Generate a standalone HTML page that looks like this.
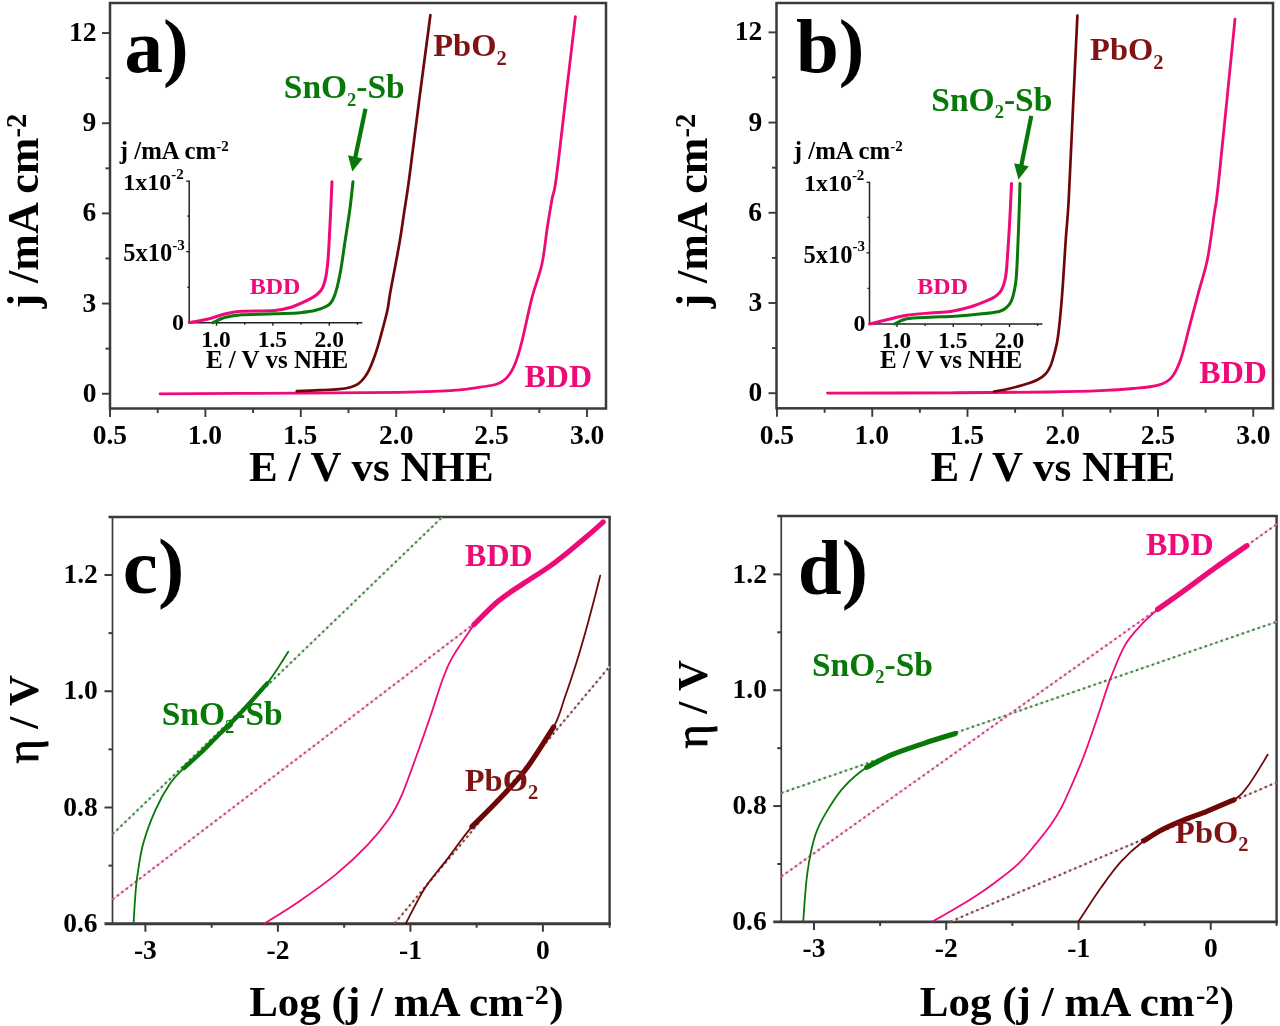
<!DOCTYPE html>
<html><head><meta charset="utf-8"><style>
html,body{margin:0;padding:0;background:#fff;width:1280px;height:1026px;overflow:hidden}
svg{display:block;filter:blur(0.4px)}
text{font-family:"Liberation Serif",serif;font-weight:bold}
</style></head><body>
<svg width="1280" height="1026" viewBox="0 0 1280 1026">
<rect width="1280" height="1026" fill="#fff"/>
<rect x="110.00" y="3.00" width="496.00" height="405.50" fill="none" stroke="#3a3a3a" stroke-width="2.5"/>
<line x1="110.00" y1="408.50" x2="110.00" y2="417.00" stroke="#3a3a3a" stroke-width="1.9" />
<text x="92.74" y="443.80" font-size="27.5" fill="#000" >0.5</text>
<line x1="205.40" y1="408.50" x2="205.40" y2="417.00" stroke="#3a3a3a" stroke-width="1.9" />
<text x="187.66" y="443.80" font-size="27.5" fill="#000" >1.0</text>
<line x1="300.80" y1="408.50" x2="300.80" y2="417.00" stroke="#3a3a3a" stroke-width="1.9" />
<text x="282.99" y="443.80" font-size="27.5" fill="#000" >1.5</text>
<line x1="396.20" y1="408.50" x2="396.20" y2="417.00" stroke="#3a3a3a" stroke-width="1.9" />
<text x="379.01" y="443.80" font-size="27.5" fill="#000" >2.0</text>
<line x1="491.60" y1="408.50" x2="491.60" y2="417.00" stroke="#3a3a3a" stroke-width="1.9" />
<text x="474.34" y="443.80" font-size="27.5" fill="#000" >2.5</text>
<line x1="587.00" y1="408.50" x2="587.00" y2="417.00" stroke="#3a3a3a" stroke-width="1.9" />
<text x="569.88" y="443.80" font-size="27.5" fill="#000" >3.0</text>
<line x1="157.70" y1="408.50" x2="157.70" y2="413.00" stroke="#3a3a3a" stroke-width="1.9" />
<line x1="253.10" y1="408.50" x2="253.10" y2="413.00" stroke="#3a3a3a" stroke-width="1.9" />
<line x1="348.50" y1="408.50" x2="348.50" y2="413.00" stroke="#3a3a3a" stroke-width="1.9" />
<line x1="443.90" y1="408.50" x2="443.90" y2="413.00" stroke="#3a3a3a" stroke-width="1.9" />
<line x1="539.30" y1="408.50" x2="539.30" y2="413.00" stroke="#3a3a3a" stroke-width="1.9" />
<line x1="102.00" y1="393.75" x2="110.00" y2="393.75" stroke="#3a3a3a" stroke-width="1.9" />
<text x="82.65" y="401.75" font-size="27.5" fill="#000" >0</text>
<line x1="102.00" y1="303.57" x2="110.00" y2="303.57" stroke="#3a3a3a" stroke-width="1.9" />
<text x="82.51" y="311.57" font-size="27.5" fill="#000" >3</text>
<line x1="102.00" y1="213.39" x2="110.00" y2="213.39" stroke="#3a3a3a" stroke-width="1.9" />
<text x="82.38" y="221.39" font-size="27.5" fill="#000" >6</text>
<line x1="102.00" y1="123.21" x2="110.00" y2="123.21" stroke="#3a3a3a" stroke-width="1.9" />
<text x="82.51" y="131.21" font-size="27.5" fill="#000" >9</text>
<line x1="102.00" y1="33.03" x2="110.00" y2="33.03" stroke="#3a3a3a" stroke-width="1.9" />
<text x="68.90" y="41.03" font-size="27.5" fill="#000" >12</text>
<line x1="105.50" y1="348.66" x2="110.00" y2="348.66" stroke="#3a3a3a" stroke-width="1.9" />
<line x1="105.50" y1="258.48" x2="110.00" y2="258.48" stroke="#3a3a3a" stroke-width="1.9" />
<line x1="105.50" y1="168.30" x2="110.00" y2="168.30" stroke="#3a3a3a" stroke-width="1.9" />
<line x1="105.50" y1="78.12" x2="110.00" y2="78.12" stroke="#3a3a3a" stroke-width="1.9" />
<text transform="translate(38.20,308.60) rotate(-90)" font-size="44" fill="#000" >j /mA cm<tspan font-size="28.7" dy="-12.30">-2</tspan></text>
<text x="249.05" y="480.80" font-size="43" fill="#000" >E / V vs NHE</text>
<text x="124.39" y="71.80" font-size="77" fill="#000" >a)</text>
<text x="433.21" y="56.20" font-size="32.5" fill="#7e1414" >PbO<tspan font-size="20.5" dy="8.60">2</tspan></text>
<text x="283.76" y="98.40" font-size="33.5" fill="#087808" >SnO<tspan font-size="18.5" dy="7.70">2</tspan><tspan font-size="33.5" dy="-7.70">-Sb</tspan></text>
<text x="524.52" y="387.00" font-size="32" fill="#ee0a78" >BDD</text>
<line x1="365.50" y1="108.70" x2="354.97" y2="158.78" stroke="#087808" stroke-width="4.2" />
<polygon points="352.3,171.5 348.0,155.3 362.7,158.4" fill="#087808"/>
<line x1="189.20" y1="180.50" x2="189.20" y2="323.60" stroke="#222" stroke-width="1.5" />
<line x1="188.50" y1="322.80" x2="362.40" y2="322.80" stroke="#222" stroke-width="1.6" />
<line x1="216.50" y1="322.80" x2="216.50" y2="325.80" stroke="#222" stroke-width="1.4" />
<text x="201.34" y="346.70" font-size="23.5" fill="#000" >1.0</text>
<line x1="272.90" y1="322.80" x2="272.90" y2="325.80" stroke="#222" stroke-width="1.4" />
<text x="257.68" y="346.70" font-size="23.5" fill="#000" >1.5</text>
<line x1="329.30" y1="322.80" x2="329.30" y2="325.80" stroke="#222" stroke-width="1.4" />
<text x="314.61" y="346.70" font-size="23.5" fill="#000" >2.0</text>
<line x1="244.70" y1="322.80" x2="244.70" y2="324.80" stroke="#222" stroke-width="1.4" />
<line x1="301.10" y1="322.80" x2="301.10" y2="324.80" stroke="#222" stroke-width="1.4" />
<line x1="357.50" y1="322.80" x2="357.50" y2="324.80" stroke="#222" stroke-width="1.4" />
<line x1="186.20" y1="181.20" x2="189.20" y2="181.20" stroke="#222" stroke-width="1.3" />
<line x1="186.20" y1="251.65" x2="189.20" y2="251.65" stroke="#222" stroke-width="1.3" />
<line x1="187.20" y1="216.07" x2="189.20" y2="216.07" stroke="#222" stroke-width="1.3" />
<line x1="187.20" y1="287.23" x2="189.20" y2="287.23" stroke="#222" stroke-width="1.3" />
<text x="123.28" y="190.40" font-size="24" fill="#000" >1x10<tspan font-size="15" dy="-11.30">-2</tspan></text>
<text x="123.22" y="261.10" font-size="24.5" fill="#000" >5x10<tspan font-size="15" dy="-11.40">-3</tspan></text>
<text x="171.96" y="330.00" font-size="24" fill="#000" >0</text>
<text x="119.85" y="158.90" font-size="24.8" fill="#000" >j /mA cm<tspan font-size="15" dy="-7.70">-2</tspan></text>
<text x="205.93" y="368.20" font-size="25" fill="#000" >E / V vs NHE</text>
<text x="249.64" y="293.70" font-size="24" fill="#ee0a78" >BDD</text>
<path d="M189.2,322.6 C192.5,322.0 203.1,320.2 209.2,318.7 C215.3,317.2 220.1,315.0 225.6,313.8 C231.1,312.6 233.8,311.9 242.0,311.3 C250.2,310.8 266.6,311.2 274.8,310.5 C283.0,309.8 285.8,308.9 291.3,307.2 C296.8,305.5 303.4,302.3 307.7,300.2 C312.0,298.1 314.5,296.5 317.0,294.5 C319.5,292.5 321.0,291.1 322.5,288.0 C324.0,284.9 325.0,281.4 326.0,276.0 C327.0,270.6 327.6,265.7 328.3,255.8 C329.0,245.9 329.8,229.2 330.4,216.8 C331.0,204.5 331.7,187.5 332.0,181.7" fill="none" stroke="#ee0a78" stroke-width="3.0" stroke-linecap="round" stroke-linejoin="round" />
<path d="M212.5,322.8 C214.7,321.9 220.7,318.6 225.6,317.3 C230.5,316.0 233.8,315.4 242.0,314.8 C250.2,314.2 265.1,314.2 274.8,313.8 C284.5,313.4 293.2,313.3 300.0,312.7 C306.8,312.1 310.7,311.7 315.6,310.3 C320.5,308.9 326.2,307.2 329.6,304.1 C333.0,301.0 334.1,297.1 335.9,291.6 C337.7,286.1 338.9,279.9 340.5,271.3 C342.1,262.7 343.6,250.6 345.2,240.2 C346.8,229.8 348.6,218.8 349.9,209.0 C351.2,199.2 352.5,186.2 353.0,181.7" fill="none" stroke="#087808" stroke-width="3.0" stroke-linecap="round" stroke-linejoin="round" />
<path d="M160.0,393.8 C183.3,393.7 260.0,393.3 300.0,393.1 C340.0,392.9 376.7,392.7 400.0,392.4 C423.3,392.1 430.0,391.6 440.0,391.2 C450.0,390.8 454.1,390.4 460.0,389.8 C465.9,389.2 470.4,388.5 475.6,387.8 C480.8,387.1 487.3,386.3 491.2,385.5 C495.1,384.7 496.7,384.2 499.0,383.2 C501.3,382.2 503.4,380.9 505.2,379.3 C507.0,377.7 508.5,375.9 509.9,373.8 C511.3,371.7 512.5,369.7 513.8,366.8 C515.1,363.9 516.2,361.2 517.7,356.6 C519.2,352.0 520.1,348.7 522.5,339.0 C524.9,329.3 528.6,310.9 531.8,298.4 C535.0,285.9 539.3,276.1 541.9,264.2 C544.5,252.3 545.7,237.7 547.4,226.8 C549.1,215.9 550.7,206.5 552.1,198.7 C553.5,190.9 553.7,196.7 556.0,180.0 C558.3,163.3 562.5,125.6 565.7,98.4 C568.9,71.2 573.8,30.3 575.4,16.7" fill="none" stroke="#ee0a78" stroke-width="2.8" stroke-linecap="round" stroke-linejoin="round" />
<path d="M296.8,391.1 C300.5,391.0 312.2,390.5 319.2,390.2 C326.2,389.9 333.5,389.7 338.7,389.2 C343.9,388.7 347.1,388.1 350.4,387.2 C353.6,386.3 355.9,385.3 358.2,383.8 C360.5,382.3 362.3,380.3 364.1,378.0 C365.9,375.7 367.4,373.4 369.0,370.2 C370.6,366.9 372.4,362.4 373.8,358.5 C375.2,354.6 376.2,351.7 377.7,346.8 C379.2,341.9 381.0,335.4 382.6,329.2 C384.2,323.0 386.2,315.9 387.5,309.7 C388.8,303.5 388.3,303.4 390.3,292.2 C392.3,281.0 397.3,255.8 399.6,242.3 C401.9,228.8 402.7,221.6 404.3,211.2 C405.9,200.8 406.4,199.0 409.0,180.0 C411.6,161.0 416.0,124.5 419.6,97.0 C423.2,69.5 428.6,28.7 430.4,15.0" fill="none" stroke="#6e0808" stroke-width="2.7" stroke-linecap="round" stroke-linejoin="round" />
<rect x="776.50" y="3.00" width="496.50" height="405.30" fill="none" stroke="#3a3a3a" stroke-width="2.5"/>
<line x1="777.00" y1="408.30" x2="777.00" y2="416.80" stroke="#3a3a3a" stroke-width="1.9" />
<text x="759.74" y="443.80" font-size="27.5" fill="#000" >0.5</text>
<line x1="872.25" y1="408.30" x2="872.25" y2="416.80" stroke="#3a3a3a" stroke-width="1.9" />
<text x="854.51" y="443.80" font-size="27.5" fill="#000" >1.0</text>
<line x1="967.50" y1="408.30" x2="967.50" y2="416.80" stroke="#3a3a3a" stroke-width="1.9" />
<text x="949.69" y="443.80" font-size="27.5" fill="#000" >1.5</text>
<line x1="1062.75" y1="408.30" x2="1062.75" y2="416.80" stroke="#3a3a3a" stroke-width="1.9" />
<text x="1045.56" y="443.80" font-size="27.5" fill="#000" >2.0</text>
<line x1="1158.00" y1="408.30" x2="1158.00" y2="416.80" stroke="#3a3a3a" stroke-width="1.9" />
<text x="1140.74" y="443.80" font-size="27.5" fill="#000" >2.5</text>
<line x1="1253.25" y1="408.30" x2="1253.25" y2="416.80" stroke="#3a3a3a" stroke-width="1.9" />
<text x="1236.13" y="443.80" font-size="27.5" fill="#000" >3.0</text>
<line x1="824.62" y1="408.30" x2="824.62" y2="412.80" stroke="#3a3a3a" stroke-width="1.9" />
<line x1="919.88" y1="408.30" x2="919.88" y2="412.80" stroke="#3a3a3a" stroke-width="1.9" />
<line x1="1015.12" y1="408.30" x2="1015.12" y2="412.80" stroke="#3a3a3a" stroke-width="1.9" />
<line x1="1110.38" y1="408.30" x2="1110.38" y2="412.80" stroke="#3a3a3a" stroke-width="1.9" />
<line x1="1205.62" y1="408.30" x2="1205.62" y2="412.80" stroke="#3a3a3a" stroke-width="1.9" />
<line x1="768.50" y1="393.20" x2="776.50" y2="393.20" stroke="#3a3a3a" stroke-width="1.9" />
<text x="748.55" y="401.20" font-size="27.5" fill="#000" >0</text>
<line x1="768.50" y1="302.99" x2="776.50" y2="302.99" stroke="#3a3a3a" stroke-width="1.9" />
<text x="748.41" y="310.99" font-size="27.5" fill="#000" >3</text>
<line x1="768.50" y1="212.78" x2="776.50" y2="212.78" stroke="#3a3a3a" stroke-width="1.9" />
<text x="748.28" y="220.78" font-size="27.5" fill="#000" >6</text>
<line x1="768.50" y1="122.57" x2="776.50" y2="122.57" stroke="#3a3a3a" stroke-width="1.9" />
<text x="748.41" y="130.57" font-size="27.5" fill="#000" >9</text>
<line x1="768.50" y1="32.36" x2="776.50" y2="32.36" stroke="#3a3a3a" stroke-width="1.9" />
<text x="734.80" y="40.36" font-size="27.5" fill="#000" >12</text>
<line x1="772.00" y1="348.09" x2="776.50" y2="348.09" stroke="#3a3a3a" stroke-width="1.9" />
<line x1="772.00" y1="257.88" x2="776.50" y2="257.88" stroke="#3a3a3a" stroke-width="1.9" />
<line x1="772.00" y1="167.67" x2="776.50" y2="167.67" stroke="#3a3a3a" stroke-width="1.9" />
<line x1="772.00" y1="77.46" x2="776.50" y2="77.46" stroke="#3a3a3a" stroke-width="1.9" />
<text transform="translate(707.10,308.60) rotate(-90)" font-size="44" fill="#000" >j /mA cm<tspan font-size="28.7" dy="-12.30">-2</tspan></text>
<text x="930.56" y="481.30" font-size="43" fill="#000" >E / V vs NHE</text>
<text x="795.93" y="72.00" font-size="77" fill="#000" >b)</text>
<text x="1090.11" y="60.30" font-size="32.5" fill="#7e1414" >PbO<tspan font-size="20.5" dy="8.60">2</tspan></text>
<text x="931.36" y="110.70" font-size="33.5" fill="#087808" >SnO<tspan font-size="18.5" dy="7.70">2</tspan><tspan font-size="33.5" dy="-7.70">-Sb</tspan></text>
<text x="1199.32" y="382.90" font-size="32" fill="#ee0a78" >BDD</text>
<line x1="1031.30" y1="115.80" x2="1021.06" y2="166.75" stroke="#087808" stroke-width="4.2" />
<polygon points="1018.5,179.5 1014.1,163.3 1028.8,166.3" fill="#087808"/>
<line x1="869.50" y1="181.70" x2="869.50" y2="324.80" stroke="#222" stroke-width="1.5" />
<line x1="868.80" y1="324.00" x2="1042.40" y2="324.00" stroke="#222" stroke-width="1.6" />
<line x1="897.00" y1="324.00" x2="897.00" y2="327.00" stroke="#222" stroke-width="1.4" />
<text x="881.84" y="347.80" font-size="23.5" fill="#000" >1.0</text>
<line x1="953.25" y1="324.00" x2="953.25" y2="327.00" stroke="#222" stroke-width="1.4" />
<text x="938.03" y="347.80" font-size="23.5" fill="#000" >1.5</text>
<line x1="1009.50" y1="324.00" x2="1009.50" y2="327.00" stroke="#222" stroke-width="1.4" />
<text x="994.81" y="347.80" font-size="23.5" fill="#000" >2.0</text>
<line x1="925.12" y1="324.00" x2="925.12" y2="326.00" stroke="#222" stroke-width="1.4" />
<line x1="981.38" y1="324.00" x2="981.38" y2="326.00" stroke="#222" stroke-width="1.4" />
<line x1="1037.62" y1="324.00" x2="1037.62" y2="326.00" stroke="#222" stroke-width="1.4" />
<line x1="866.50" y1="182.40" x2="869.50" y2="182.40" stroke="#222" stroke-width="1.3" />
<line x1="866.50" y1="252.85" x2="869.50" y2="252.85" stroke="#222" stroke-width="1.3" />
<line x1="867.50" y1="217.27" x2="869.50" y2="217.27" stroke="#222" stroke-width="1.3" />
<line x1="867.50" y1="288.43" x2="869.50" y2="288.43" stroke="#222" stroke-width="1.3" />
<text x="803.88" y="191.40" font-size="24" fill="#000" >1x10<tspan font-size="15" dy="-11.30">-2</tspan></text>
<text x="803.62" y="262.60" font-size="24.5" fill="#000" >5x10<tspan font-size="15" dy="-11.40">-3</tspan></text>
<text x="853.46" y="331.00" font-size="24" fill="#000" >0</text>
<text x="793.85" y="158.90" font-size="24.8" fill="#000" >j /mA cm<tspan font-size="15" dy="-7.70">-2</tspan></text>
<text x="880.12" y="368.20" font-size="25" fill="#000" >E / V vs NHE</text>
<text x="917.34" y="293.70" font-size="24" fill="#ee0a78" >BDD</text>
<path d="M869.7,324.0 C873.1,323.2 883.8,320.5 890.0,319.0 C896.2,317.5 900.0,316.2 906.7,315.2 C913.4,314.2 922.7,313.6 930.0,313.0 C937.3,312.4 943.9,312.5 950.6,311.5 C957.3,310.5 963.9,308.8 970.0,307.0 C976.1,305.2 982.7,302.4 987.0,300.6 C991.3,298.8 993.6,297.8 996.0,296.0 C998.4,294.2 1000.0,292.7 1001.5,290.0 C1003.0,287.3 1004.1,283.9 1005.0,280.0 C1005.9,276.1 1006.0,275.7 1006.8,266.5 C1007.5,257.3 1008.7,238.8 1009.5,225.0 C1010.3,211.2 1011.2,190.5 1011.5,183.6" fill="none" stroke="#ee0a78" stroke-width="3.0" stroke-linecap="round" stroke-linejoin="round" />
<path d="M894.5,324.0 C896.5,323.1 900.8,319.9 906.7,318.8 C912.6,317.7 922.7,317.6 930.0,317.2 C937.3,316.8 943.1,316.8 950.6,316.4 C958.1,315.9 966.9,315.3 975.0,314.5 C983.1,313.7 993.8,312.9 999.3,311.5 C1004.8,310.1 1006.0,307.8 1008.0,306.0 C1010.0,304.2 1010.5,302.9 1011.5,300.6 C1012.5,298.3 1013.2,296.1 1014.0,292.0 C1014.8,287.9 1015.6,286.5 1016.4,276.2 C1017.1,265.9 1017.9,245.4 1018.5,230.0 C1019.1,214.6 1019.8,191.3 1020.0,183.6" fill="none" stroke="#087808" stroke-width="3.0" stroke-linecap="round" stroke-linejoin="round" />
<path d="M827.5,393.1 C847.9,393.1 912.9,393.0 950.0,392.8 C987.1,392.6 1025.0,392.4 1050.0,392.0 C1075.0,391.6 1086.1,391.3 1100.0,390.7 C1113.9,390.1 1123.9,389.4 1133.6,388.5 C1143.3,387.6 1151.9,387.0 1158.3,385.1 C1164.7,383.2 1168.0,381.6 1171.7,377.3 C1175.4,373.0 1177.7,367.9 1180.7,359.3 C1183.7,350.7 1186.7,336.9 1189.7,325.7 C1192.7,314.5 1195.6,303.3 1198.6,292.1 C1201.6,280.9 1205.0,271.6 1207.6,258.5 C1210.2,245.4 1212.4,226.7 1214.3,213.6 C1216.2,200.5 1215.3,212.4 1218.8,180.0 C1222.2,147.6 1232.3,45.9 1235.0,19.1" fill="none" stroke="#ee0a78" stroke-width="2.8" stroke-linecap="round" stroke-linejoin="round" />
<path d="M994.0,391.5 C996.7,391.0 1004.2,389.9 1010.0,388.5 C1015.8,387.1 1024.0,384.7 1028.7,383.2 C1033.4,381.7 1035.2,381.0 1038.0,379.5 C1040.8,378.0 1043.4,376.2 1045.5,374.0 C1047.6,371.8 1049.0,369.5 1050.5,366.0 C1052.0,362.5 1053.2,357.9 1054.5,353.0 C1055.8,348.1 1056.8,345.8 1058.0,336.5 C1059.2,327.2 1060.6,313.8 1061.9,297.5 C1063.2,281.2 1064.7,255.2 1065.8,239.0 C1066.9,222.8 1067.5,221.8 1068.7,200.0 C1069.9,178.2 1071.5,138.7 1073.0,108.0 C1074.5,77.3 1076.7,31.0 1077.4,15.6" fill="none" stroke="#6e0808" stroke-width="2.7" stroke-linecap="round" stroke-linejoin="round" />
<line x1="112.50" y1="517.00" x2="112.50" y2="923.75" stroke="#3a3a3a" stroke-width="1.7" />
<line x1="108.50" y1="517.00" x2="610.80" y2="517.00" stroke="#3a3a3a" stroke-width="2.6" />
<line x1="609.60" y1="517.00" x2="609.60" y2="924.95" stroke="#3a3a3a" stroke-width="2.4" />
<line x1="104.50" y1="923.75" x2="610.80" y2="923.75" stroke="#3a3a3a" stroke-width="2.8" />
<line x1="145.40" y1="923.75" x2="145.40" y2="931.75" stroke="#3a3a3a" stroke-width="2.0" />
<text x="133.92" y="958.70" font-size="27.5" fill="#000" >-3</text>
<line x1="277.90" y1="923.75" x2="277.90" y2="931.75" stroke="#3a3a3a" stroke-width="2.0" />
<text x="266.49" y="958.70" font-size="27.5" fill="#000" >-2</text>
<line x1="410.40" y1="923.75" x2="410.40" y2="931.75" stroke="#3a3a3a" stroke-width="2.0" />
<text x="399.12" y="958.70" font-size="27.5" fill="#000" >-1</text>
<line x1="542.90" y1="923.75" x2="542.90" y2="931.75" stroke="#3a3a3a" stroke-width="2.0" />
<text x="536.02" y="958.70" font-size="27.5" fill="#000" >0</text>
<line x1="211.65" y1="923.75" x2="211.65" y2="927.75" stroke="#3a3a3a" stroke-width="2.0" />
<line x1="344.15" y1="923.75" x2="344.15" y2="927.75" stroke="#3a3a3a" stroke-width="2.0" />
<line x1="476.65" y1="923.75" x2="476.65" y2="927.75" stroke="#3a3a3a" stroke-width="2.0" />
<line x1="609.60" y1="923.75" x2="609.60" y2="927.75" stroke="#3a3a3a" stroke-width="2.0" />
<text x="63.15" y="931.95" font-size="27.5" fill="#000" >0.6</text>
<line x1="104.50" y1="807.50" x2="112.50" y2="807.50" stroke="#3a3a3a" stroke-width="2.0" />
<text x="63.29" y="815.70" font-size="27.5" fill="#000" >0.8</text>
<line x1="104.50" y1="691.25" x2="112.50" y2="691.25" stroke="#3a3a3a" stroke-width="2.0" />
<text x="63.43" y="699.45" font-size="27.5" fill="#000" >1.0</text>
<line x1="104.50" y1="575.00" x2="112.50" y2="575.00" stroke="#3a3a3a" stroke-width="2.0" />
<text x="63.43" y="583.20" font-size="27.5" fill="#000" >1.2</text>
<line x1="108.50" y1="865.62" x2="112.50" y2="865.62" stroke="#3a3a3a" stroke-width="2.0" />
<line x1="108.50" y1="749.38" x2="112.50" y2="749.38" stroke="#3a3a3a" stroke-width="2.0" />
<line x1="108.50" y1="633.12" x2="112.50" y2="633.12" stroke="#3a3a3a" stroke-width="2.0" />
<text transform="translate(37.90,763.60) rotate(-90)" font-size="43" fill="#000" ><tspan font-size="46" font-weight="normal" stroke="#000" stroke-width="0.9">&#951;</tspan> / V</text>
<text x="249.16" y="1015.60" font-size="43" fill="#000" >Log (j / mA cm<tspan font-size="28" dy="-12" dx="1.5">-2</tspan><tspan font-size="43" dy="12" dx="0.5">)</tspan></text>
<text x="122.83" y="593.20" font-size="79" fill="#000" >c)</text>
<line x1="112.50" y1="834.30" x2="441.70" y2="517.60" stroke="#d4efd4" stroke-width="1.6" />
<line x1="112.50" y1="834.30" x2="441.70" y2="517.60" stroke="#4e7f4e" stroke-width="2.2" stroke-dasharray="2.4,3.2"/>
<line x1="112.50" y1="899.50" x2="472.80" y2="624.70" stroke="#fad2e4" stroke-width="1.6" />
<line x1="112.50" y1="899.50" x2="472.80" y2="624.70" stroke="#c04a8a" stroke-width="2.2" stroke-dasharray="2.4,3.2"/>
<line x1="394.60" y1="923.50" x2="609.60" y2="666.50" stroke="#f0dcdc" stroke-width="1.6" />
<line x1="394.60" y1="923.50" x2="609.60" y2="666.50" stroke="#7a4848" stroke-width="2.2" stroke-dasharray="2.4,3.2"/>
<path d="M133.6,923.5 C133.8,919.6 134.4,907.8 135.0,900.0 C135.6,892.2 135.8,886.2 137.2,876.8 C138.6,867.4 140.2,854.7 143.2,843.6 C146.2,832.5 150.8,820.4 155.3,810.3 C159.8,800.2 165.6,790.1 170.4,783.1 C175.2,776.1 179.0,773.0 184.0,768.0 C189.0,763.0 194.8,758.5 200.6,753.0 C206.4,747.5 212.2,741.3 218.8,734.8 C225.4,728.2 231.8,722.3 239.9,713.7 C248.0,705.1 259.1,693.7 267.2,683.4 C275.3,673.1 284.8,657.0 288.3,651.7" fill="none" stroke="#087808" stroke-width="1.8" stroke-linecap="round" stroke-linejoin="round" />
<path d="M184.0,768.0 C186.8,765.5 194.8,758.5 200.6,753.0 C206.4,747.5 212.2,741.3 218.8,734.8 C225.4,728.2 231.8,722.3 239.9,713.7 C248.0,705.1 262.6,688.5 267.2,683.4" fill="none" stroke="#087808" stroke-width="4.4" stroke-linecap="round" stroke-linejoin="round" />
<path d="M264.6,923.5 C270.3,919.9 286.9,909.8 298.7,901.7 C310.5,893.6 323.9,884.2 335.3,874.9 C346.7,865.5 358.0,854.9 366.9,845.6 C375.8,836.3 383.2,827.0 388.9,818.9 C394.6,810.8 396.5,807.0 401.0,796.9 C405.5,786.8 410.8,771.4 415.7,758.0 C420.6,744.6 425.9,729.5 430.3,716.5 C434.8,703.5 438.7,689.9 442.4,680.0 C446.1,670.1 447.1,666.6 452.3,657.4 C457.6,648.2 470.3,630.2 473.9,624.7" fill="none" stroke="#ee0a78" stroke-width="1.8" stroke-linecap="round" stroke-linejoin="round" />
<path d="M473.9,624.7 C477.9,620.8 489.8,608.2 498.0,601.3 C506.2,594.4 514.9,589.2 523.4,583.5 C531.9,577.8 540.7,572.7 548.7,567.0 C556.7,561.3 565.2,554.4 571.5,549.3 C577.8,544.2 581.4,541.1 586.7,536.6 C592.0,532.1 600.5,524.4 603.2,522.0" fill="none" stroke="#ee0a78" stroke-width="5.2" stroke-linecap="round" stroke-linejoin="round" />
<path d="M405.8,923.5 C409.0,917.6 417.9,898.9 424.8,888.2 C431.7,877.5 439.4,869.4 447.2,859.1 C455.0,848.8 463.7,836.1 471.9,826.6 C480.1,817.1 487.5,811.5 496.5,802.0 C505.5,792.5 516.2,782.0 525.7,769.5 C535.2,757.0 547.1,739.1 553.7,726.9 C560.3,714.7 561.2,707.4 565.1,696.5 C569.0,685.6 573.2,672.8 576.8,661.4 C580.4,650.0 583.6,638.6 586.5,628.2 C589.4,617.8 592.0,607.8 594.3,599.0 C596.6,590.2 599.2,579.5 600.2,575.6" fill="none" stroke="#6e0808" stroke-width="1.8" stroke-linecap="round" stroke-linejoin="round" />
<path d="M471.9,826.6 C476.0,822.5 487.5,811.5 496.5,802.0 C505.5,792.5 516.2,782.0 525.7,769.5 C535.2,757.0 549.0,734.0 553.7,726.9" fill="none" stroke="#6e0808" stroke-width="5.2" stroke-linecap="round" stroke-linejoin="round" />
<text x="161.66" y="725.00" font-size="33.5" fill="#087808" >SnO<tspan font-size="18.5" dy="7.50">2</tspan><tspan font-size="33.5" dy="-7.50">-Sb</tspan></text>
<text x="465.12" y="565.70" font-size="32" fill="#ee0a78" >BDD</text>
<text x="464.71" y="790.80" font-size="32.5" fill="#7e1414" >PbO<tspan font-size="20.5" dy="8.00">2</tspan></text>
<line x1="781.25" y1="516.00" x2="781.25" y2="921.90" stroke="#3a3a3a" stroke-width="1.7" />
<line x1="777.25" y1="516.00" x2="1277.80" y2="516.00" stroke="#3a3a3a" stroke-width="2.6" />
<line x1="1276.60" y1="516.00" x2="1276.60" y2="923.10" stroke="#3a3a3a" stroke-width="2.4" />
<line x1="773.25" y1="921.90" x2="1277.80" y2="921.90" stroke="#3a3a3a" stroke-width="2.8" />
<line x1="814.00" y1="921.90" x2="814.00" y2="929.90" stroke="#3a3a3a" stroke-width="2.0" />
<text x="802.52" y="957.30" font-size="27.5" fill="#000" >-3</text>
<line x1="946.25" y1="921.90" x2="946.25" y2="929.90" stroke="#3a3a3a" stroke-width="2.0" />
<text x="934.84" y="957.30" font-size="27.5" fill="#000" >-2</text>
<line x1="1078.50" y1="921.90" x2="1078.50" y2="929.90" stroke="#3a3a3a" stroke-width="2.0" />
<text x="1067.22" y="957.30" font-size="27.5" fill="#000" >-1</text>
<line x1="1210.75" y1="921.90" x2="1210.75" y2="929.90" stroke="#3a3a3a" stroke-width="2.0" />
<text x="1203.88" y="957.30" font-size="27.5" fill="#000" >0</text>
<line x1="880.12" y1="921.90" x2="880.12" y2="925.90" stroke="#3a3a3a" stroke-width="2.0" />
<line x1="1012.38" y1="921.90" x2="1012.38" y2="925.90" stroke="#3a3a3a" stroke-width="2.0" />
<line x1="1144.62" y1="921.90" x2="1144.62" y2="925.90" stroke="#3a3a3a" stroke-width="2.0" />
<line x1="1276.60" y1="921.90" x2="1276.60" y2="925.90" stroke="#3a3a3a" stroke-width="2.0" />
<text x="732.25" y="930.10" font-size="27.5" fill="#000" >0.6</text>
<line x1="773.25" y1="806.06" x2="781.25" y2="806.06" stroke="#3a3a3a" stroke-width="2.0" />
<text x="732.39" y="814.26" font-size="27.5" fill="#000" >0.8</text>
<line x1="773.25" y1="690.22" x2="781.25" y2="690.22" stroke="#3a3a3a" stroke-width="2.0" />
<text x="732.52" y="698.42" font-size="27.5" fill="#000" >1.0</text>
<line x1="773.25" y1="574.38" x2="781.25" y2="574.38" stroke="#3a3a3a" stroke-width="2.0" />
<text x="732.52" y="582.58" font-size="27.5" fill="#000" >1.2</text>
<line x1="777.25" y1="863.98" x2="781.25" y2="863.98" stroke="#3a3a3a" stroke-width="2.0" />
<line x1="777.25" y1="748.14" x2="781.25" y2="748.14" stroke="#3a3a3a" stroke-width="2.0" />
<line x1="777.25" y1="632.30" x2="781.25" y2="632.30" stroke="#3a3a3a" stroke-width="2.0" />
<text transform="translate(706.80,748.60) rotate(-90)" font-size="43" fill="#000" ><tspan font-size="46" font-weight="normal" stroke="#000" stroke-width="0.9">&#951;</tspan> / V</text>
<text x="919.86" y="1015.60" font-size="43" fill="#000" >Log (j / mA cm<tspan font-size="28" dy="-12" dx="1.5">-2</tspan><tspan font-size="43" dy="12" dx="0.5">)</tspan></text>
<text x="797.84" y="593.50" font-size="79" fill="#000" >d)</text>
<line x1="781.25" y1="793.00" x2="1276.60" y2="621.80" stroke="#d4efd4" stroke-width="1.6" />
<line x1="781.25" y1="793.00" x2="1276.60" y2="621.80" stroke="#4e7f4e" stroke-width="2.2" stroke-dasharray="2.4,3.2"/>
<line x1="781.25" y1="876.60" x2="1276.60" y2="524.30" stroke="#fad2e4" stroke-width="1.6" />
<line x1="781.25" y1="876.60" x2="1276.60" y2="524.30" stroke="#c04a8a" stroke-width="2.2" stroke-dasharray="2.4,3.2"/>
<line x1="950.50" y1="921.60" x2="1276.60" y2="782.40" stroke="#f0dcdc" stroke-width="1.6" />
<line x1="950.50" y1="921.60" x2="1276.60" y2="782.40" stroke="#7a4848" stroke-width="2.2" stroke-dasharray="2.4,3.2"/>
<path d="M803.2,921.6 C803.9,913.6 805.3,887.9 807.3,873.4 C809.3,858.9 811.9,845.5 815.4,834.8 C818.9,824.1 823.4,817.1 828.2,809.1 C833.0,801.1 837.9,793.6 844.3,786.6 C850.7,779.6 858.8,772.7 866.8,767.3 C874.8,761.9 883.0,758.4 892.6,754.4 C902.2,750.4 914.2,746.6 924.7,743.1 C935.2,739.6 950.2,735.1 955.3,733.5" fill="none" stroke="#087808" stroke-width="1.8" stroke-linecap="round" stroke-linejoin="round" />
<path d="M866.8,767.3 C871.1,765.1 883.0,758.4 892.6,754.4 C902.2,750.4 914.2,746.6 924.7,743.1 C935.2,739.6 950.2,735.1 955.3,733.5" fill="none" stroke="#087808" stroke-width="5.2" stroke-linecap="round" stroke-linejoin="round" />
<path d="M932.3,921.6 C935.6,919.8 945.0,914.5 951.9,910.5 C958.8,906.5 966.6,902.0 973.9,897.3 C981.2,892.5 988.5,887.5 995.8,882.0 C1003.1,876.5 1011.1,870.6 1017.7,864.4 C1024.3,858.2 1029.7,851.3 1035.2,844.7 C1040.7,838.1 1046.2,831.2 1050.6,825.0 C1055.0,818.8 1057.8,814.4 1061.5,807.4 C1065.2,800.4 1068.8,791.7 1072.5,783.3 C1076.2,774.9 1079.8,766.5 1083.5,757.0 C1087.2,747.5 1091.1,735.8 1094.4,726.3 C1097.7,716.8 1100.5,708.1 1103.2,700.0 C1105.9,691.9 1107.1,687.0 1110.7,677.9 C1114.3,668.8 1119.9,654.0 1125.0,645.1 C1130.1,636.2 1135.9,630.6 1141.4,624.6 C1146.9,618.6 1155.1,611.8 1157.8,609.3" fill="none" stroke="#ee0a78" stroke-width="1.8" stroke-linecap="round" stroke-linejoin="round" />
<path d="M1157.8,609.3 C1161.9,606.4 1173.2,598.5 1182.4,591.9 C1191.6,585.2 1202.3,577.1 1213.0,569.4 C1223.7,561.7 1241.2,549.7 1246.8,545.8" fill="none" stroke="#ee0a78" stroke-width="5.4" stroke-linecap="round" stroke-linejoin="round" />
<path d="M1078.4,921.6 C1082.2,916.0 1093.7,897.9 1100.9,887.8 C1108.1,877.7 1114.2,869.0 1121.4,861.2 C1128.6,853.4 1137.1,846.1 1143.9,840.8 C1150.7,835.5 1155.8,832.9 1162.3,829.5 C1168.8,826.1 1175.3,823.4 1182.8,820.3 C1190.3,817.2 1198.9,814.5 1207.4,811.1 C1215.9,807.7 1227.2,804.1 1234.0,799.8 C1240.8,795.5 1242.7,793.0 1248.3,785.5 C1253.9,778.0 1264.5,759.9 1267.7,754.8" fill="none" stroke="#6e0808" stroke-width="1.8" stroke-linecap="round" stroke-linejoin="round" />
<path d="M1143.9,840.8 C1147.0,838.9 1155.8,832.9 1162.3,829.5 C1168.8,826.1 1175.3,823.4 1182.8,820.3 C1190.3,817.2 1198.9,814.5 1207.4,811.1 C1215.9,807.7 1229.6,801.7 1234.0,799.8" fill="none" stroke="#6e0808" stroke-width="5.2" stroke-linecap="round" stroke-linejoin="round" />
<text x="811.96" y="675.60" font-size="33.5" fill="#087808" >SnO<tspan font-size="18.5" dy="7.50">2</tspan><tspan font-size="33.5" dy="-7.50">-Sb</tspan></text>
<text x="1146.02" y="555.00" font-size="32" fill="#ee0a78" >BDD</text>
<text x="1175.11" y="842.80" font-size="32.5" fill="#7e1414" >PbO<tspan font-size="20.5" dy="8.00">2</tspan></text>
</svg>
</body></html>
